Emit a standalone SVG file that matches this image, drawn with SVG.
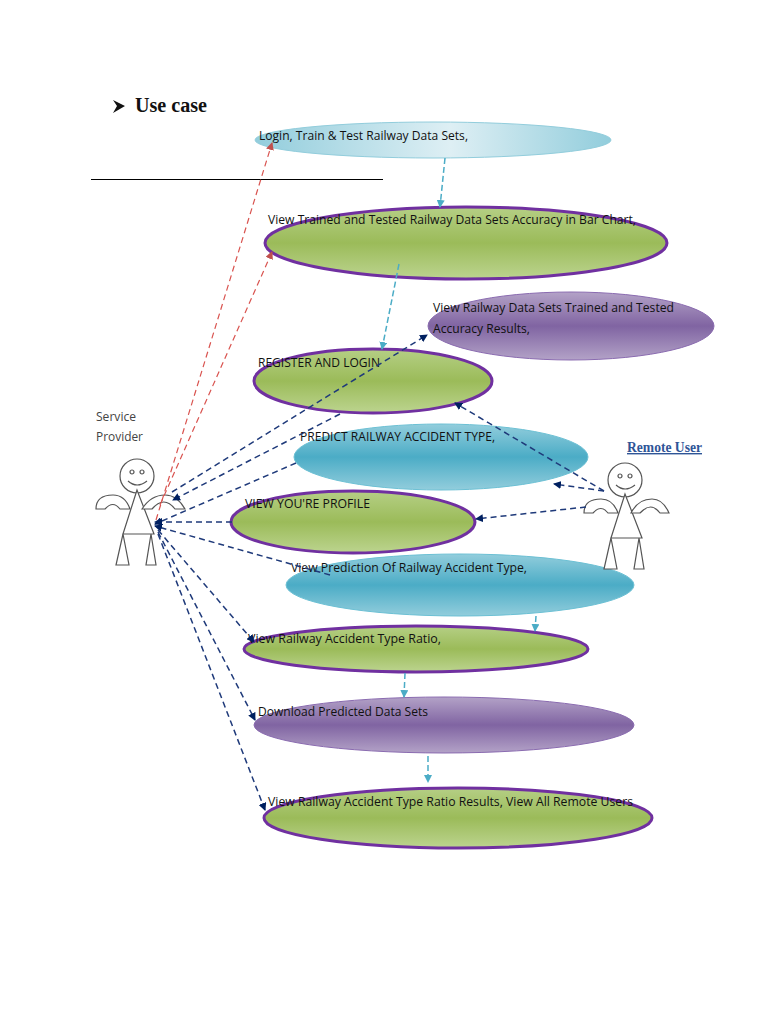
<svg xmlns="http://www.w3.org/2000/svg" width="768" height="1024" viewBox="0 0 768 1024">
<style>
text{font-family:"Open Sans","Noto Sans","DejaVu Sans",sans-serif;font-size:12px;fill:#111}
.g{fill:url(#green);stroke:#7030a0;stroke-width:3}
.b{fill:url(#blue);stroke:#6cc0d4;stroke-width:1}
.p{fill:url(#purple);stroke:#8a6bb0;stroke-width:1}
.navy{stroke:#1f3a7a;stroke-width:1.5;stroke-dasharray:6 4;fill:none;marker-end:url(#an)}
.red{stroke:#d9534f;stroke-width:1.2;stroke-dasharray:6 4;fill:none;marker-end:url(#ar)}
.cy{stroke:#4bacc6;stroke-width:1.5;stroke-dasharray:6 3;fill:none;marker-end:url(#ac)}
.st{fill:#fff;stroke:#555;stroke-width:1.2}
.nf{fill:none}
.lbl{fill:#444}
</style>
<defs>
<linearGradient id="green" x1="0" y1="0" x2="0" y2="1"><stop offset="0" stop-color="#b5cf85"/><stop offset=".5" stop-color="#9bbb59"/><stop offset="1" stop-color="#bcd48f"/></linearGradient>
<linearGradient id="blue" x1="0" y1="0" x2="0" y2="1"><stop offset="0" stop-color="#92cddc"/><stop offset=".5" stop-color="#4bacc6"/><stop offset="1" stop-color="#92cddc"/></linearGradient>
<linearGradient id="purple" x1="0" y1="0" x2="0" y2="1"><stop offset="0" stop-color="#b3a2c7"/><stop offset=".5" stop-color="#8064a2"/><stop offset="1" stop-color="#b3a2c7"/></linearGradient>
<linearGradient id="light" x1="0" y1="0" x2="1" y2="0"><stop offset="0" stop-color="#92cddc"/><stop offset=".55" stop-color="#deeff4"/><stop offset="1" stop-color="#92cddc"/></linearGradient>
<marker id="an" markerWidth="8" markerHeight="8" refX="7" refY="4" orient="auto" markerUnits="userSpaceOnUse"><path d="M0 0L8 4L0 8Z" fill="#002060"/></marker>
<marker id="ar" markerWidth="8" markerHeight="8" refX="7" refY="4" orient="auto" markerUnits="userSpaceOnUse"><path d="M0 0L8 4L0 8Z" fill="#c0504d"/></marker>
<marker id="ac" markerWidth="8" markerHeight="8" refX="7" refY="4" orient="auto" markerUnits="userSpaceOnUse"><path d="M0 0L8 4L0 8Z" fill="#4bacc6"/></marker>
<g id="person"><circle cx="0" cy="0" r="17" class="st"/><circle cx="-5" cy="-4" r="2" class="st"/><circle cx="5" cy="-4" r="2" class="st"/><path d="M-9 5Q0 13 10 5" class="st nf" style="fill:none"/><path d="M0 14L-14 58H17Z" class="st"/><path d="M-14 58L-21 89H-8ZM14 58L9 89H19Z" class="st"/><path d="M-41 33Q-41 19 -24 19Q-12 19 -7 33L-17 33Q-24 24 -32 33Z" class="st"/></g>
</defs>
<rect width="768" height="1024" fill="#fff"/>
<g id="heading"><path d="M113 100L125 106L113 113L117 106Z" fill="#111"/><text x="135" y="112" textLength="72" lengthAdjust="spacingAndGlyphs" style="font-family:'Liberation Serif',serif;font-size:20px;font-weight:bold">Use case</text></g>
<line id="rule" x1="91" y1="179.5" x2="383" y2="179.5" stroke="#000" stroke-width="1"/>

<g id="n1"><ellipse cx="433" cy="140" rx="178" ry="18" fill="url(#light)" stroke="#92cddc"/><text x="259" y="140" textLength="209" lengthAdjust="spacingAndGlyphs">Login, Train &amp; Test Railway Data Sets,</text></g>
<g id="n2"><ellipse cx="466" cy="243" rx="201" ry="36" class="g"/><text x="268" y="224" textLength="368" lengthAdjust="spacingAndGlyphs">View Trained and Tested Railway Data Sets Accuracy in Bar Chart,</text></g>
<g id="n3"><ellipse cx="571" cy="326" rx="143" ry="34" class="p"/><text x="433" y="312" textLength="241" lengthAdjust="spacingAndGlyphs">View Railway Data Sets Trained and Tested</text><text x="433" y="333" textLength="97" lengthAdjust="spacingAndGlyphs">Accuracy Results,</text></g>
<g id="n4"><ellipse cx="373" cy="381" rx="119" ry="32" class="g"/><text x="258" y="367" textLength="122" lengthAdjust="spacingAndGlyphs">REGISTER AND LOGIN</text></g>
<g id="n5"><ellipse cx="441" cy="457" rx="147" ry="33" class="b"/><text x="300" y="441" textLength="195" lengthAdjust="spacingAndGlyphs">PREDICT RAILWAY ACCIDENT TYPE,</text></g>
<g id="n6"><ellipse cx="353" cy="522" rx="122" ry="31" class="g"/><text x="245" y="508" textLength="125" lengthAdjust="spacingAndGlyphs">VIEW YOU'RE PROFILE</text></g>
<g id="n7"><ellipse cx="460" cy="585" rx="174" ry="31" class="b"/><text x="291" y="572" textLength="236" lengthAdjust="spacingAndGlyphs">View Prediction Of Railway Accident Type,</text></g>
<g id="n8"><ellipse cx="416" cy="649" rx="172" ry="23" class="g"/><text x="248" y="643" textLength="193" lengthAdjust="spacingAndGlyphs">View Railway Accident Type Ratio,</text></g>
<g id="n9"><ellipse cx="444" cy="725" rx="190" ry="28" class="p"/><text x="258" y="716" textLength="170" lengthAdjust="spacingAndGlyphs">Download Predicted Data Sets</text></g>
<g id="n10"><ellipse cx="458" cy="818" rx="194" ry="30" class="g"/><text x="268" y="806" textLength="365" lengthAdjust="spacingAndGlyphs">View Railway Accident Type Ratio Results, View All Remote Users</text></g>

<g id="service-provider"><use href="#person" x="137" y="476"/><path class="st" d="M142 509Q151 495 165 495Q177 495 185 509H175Q164 495 152 509Z"/><text x="96" y="421" class="lbl" textLength="40" lengthAdjust="spacingAndGlyphs">Service</text><text x="96" y="441" class="lbl" textLength="47" lengthAdjust="spacingAndGlyphs">Provider</text></g>
<g id="remote-user"><use href="#person" x="625" y="480"/><path class="st" d="M631 513Q638 499 652 499Q663 499 669 513H660Q651 501 640 513Z"/><text x="627" y="452" textLength="75" lengthAdjust="spacingAndGlyphs" style="font-family:'Liberation Serif',serif;font-size:14px;font-weight:bold;fill:#2f5597;text-decoration:underline">Remote User</text></g>

<g id="connectors">
<path class="red" d="M156 520L272 143"/>
<path class="red" d="M160 505L272 252"/>
<path class="cy" d="M445 158L440 207"/>
<path class="cy" d="M399 264L382 349"/>
<path class="cy" d="M536 616L535 631"/>
<path class="cy" d="M405 673L404 697"/>
<path class="cy" d="M428 756L428 782"/>
<path class="navy" d="M172 492L427 335"/>
<path class="navy" d="M340 414L173 500"/>
<path class="navy" d="M296 463L155 524"/>
<path class="navy" d="M232 522L155 522"/>
<path class="navy" d="M330 575L155 526"/>
<path class="navy" d="M158 530L254 642"/>
<path class="navy" d="M158 532L255 720"/>
<path class="navy" d="M158 534L265 810"/>
<path class="navy" d="M604 491L455 403"/>
<path class="navy" d="M604 491L554 484"/>
<path class="navy" d="M586 507L476 519"/>
</g>
</svg>
